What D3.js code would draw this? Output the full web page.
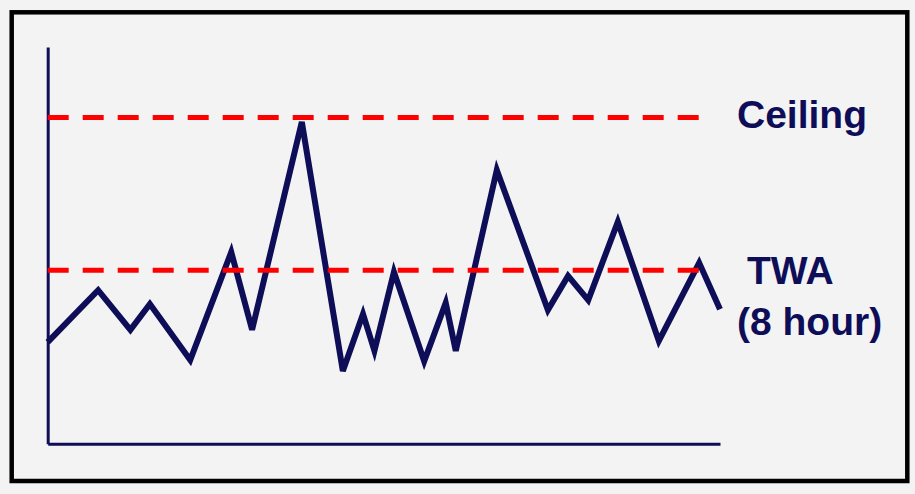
<!DOCTYPE html>
<html>
<head>
<meta charset="utf-8">
<script src="https://cdn.jsdelivr.net/npm/d3@7"></script>
<style>
  html, body { margin: 0; padding: 0; background: #f4f3f3; }
  svg { display: block; }
</style>
</head>
<body>
<div id="chart"></div>
<script>
// exposure readings over the shift (x = % of shift, y = % of scale)
var sampleTimes = [0, 7.5, 12.3, 15.2, 21.2, 27.3, 30.4, 37.8, 43.9, 46.9, 48.6, 51.5,
                   56.0, 59.2, 60.7, 66.8, 74.4, 77.4, 80.4, 84.8, 90.9, 96.9, 100];
var exposure = [25.6, 38.7, 28.7, 35.2, 21.1, 48.3, 28.7, 81.1, 18.3, 32.7, 23.4, 43.3,
                20.8, 35.5, 23.4, 69.0, 33.7, 42.3, 36.2, 55.9, 25.9, 45.6, 33.9];
var limitNames = ["Ceiling", "TWA"];
var limitValues = [82.2, 43.7];
var limitNotes = ["", "(8 hour)"];

var width = 915, height = 494;
var navy = "#0e0e58";

var svg = d3.select('#chart').append('svg')
    .attr('width', width)
    .attr('height', height);

svg.append('rect')
    .attr('width', width).attr('height', height)
    .attr('fill', '#f4f3f3');

// outer frame
svg.append('rect')
    .attr('x', 11.7).attr('y', 12.3)
    .attr('width', 895.6).attr('height', 468.7)
    .attr('fill', '#f4f3f3')
    .attr('stroke', '#000')
    .attr('stroke-width', 4.5);

var xScale = d3.scaleLinear().domain([0, 100]).range([47.7, 720]);
var yScale = d3.scaleLinear().domain([0, 100]).range([443.7, 47]);

// axes (plain lines, no ticks)
var xAxis = d3.axisBottom(xScale).ticks(0).tickSize(0).tickSizeOuter(0);
var yAxis = d3.axisLeft(yScale).ticks(0).tickSize(0).tickSizeOuter(0);

svg.append('g')
    .attr('transform', 'translate(0,' + yScale(0) + ')')
    .call(xAxis)
    .call(function(g) {
        g.select('.domain').attr('stroke', navy).attr('stroke-width', 3);
    });
svg.append('g')
    .attr('transform', 'translate(' + xScale(0) + ',0)')
    .call(yAxis)
    .call(function(g) {
        g.select('.domain').attr('stroke', navy).attr('stroke-width', 3);
    });

var points = sampleTimes.map(function(t, i) { return {x: t, y: exposure[i]}; });

var line = d3.line()
    .x(function(d) { return xScale(d.x); })
    .y(function(d) { return yScale(d.y); });

svg.append('path')
    .datum(points)
    .attr('d', line)
    .attr('fill', 'none')
    .attr('stroke', navy)
    .attr('stroke-width', 6)
    .attr('stroke-linejoin', 'miter')
    .attr('stroke-miterlimit', 4);

// limit lines
svg.selectAll('line.limit')
    .data(limitValues)
    .enter().append('line')
        .attr('class', 'limit')
        .attr('x1', xScale(0))
        .attr('x2', xScale(98.6))
        .attr('y1', function(d) { return yScale(d); })
        .attr('y2', function(d) { return yScale(d); })
        .attr('stroke', '#ff0000')
        .attr('stroke-width', 5)
        .attr('stroke-dasharray', '21,14');

// labels
var labelX = [737, 747];
var labelDy = [10, 14];
var labels = svg.selectAll('g.label')
    .data(limitNames)
    .enter().append('g')
        .attr('class', 'label');

labels.append('text')
    .attr('x', function(d, i) { return labelX[i]; })
    .attr('y', function(d, i) { return yScale(limitValues[i]) + labelDy[i]; })
    .attr('fill', navy)
    .style('font-family', '"Liberation Sans", Arial, sans-serif')
    .style('font-weight', 'bold')
    .style('font-size', '39px')
    .text(function(d) { return d; });

labels.filter(function(d, i) { return limitNotes[i] !== ""; })
    .append('text')
    .attr('x', 737)
    .attr('y', function(d) { return yScale(limitValues[limitNames.indexOf(d)]) + 64.5; })
    .attr('fill', navy)
    .style('font-family', '"Liberation Sans", Arial, sans-serif')
    .style('font-weight', 'bold')
    .style('font-size', '39px')
    .text(function(d) { return limitNotes[limitNames.indexOf(d)]; });
</script>
</body>
</html>
